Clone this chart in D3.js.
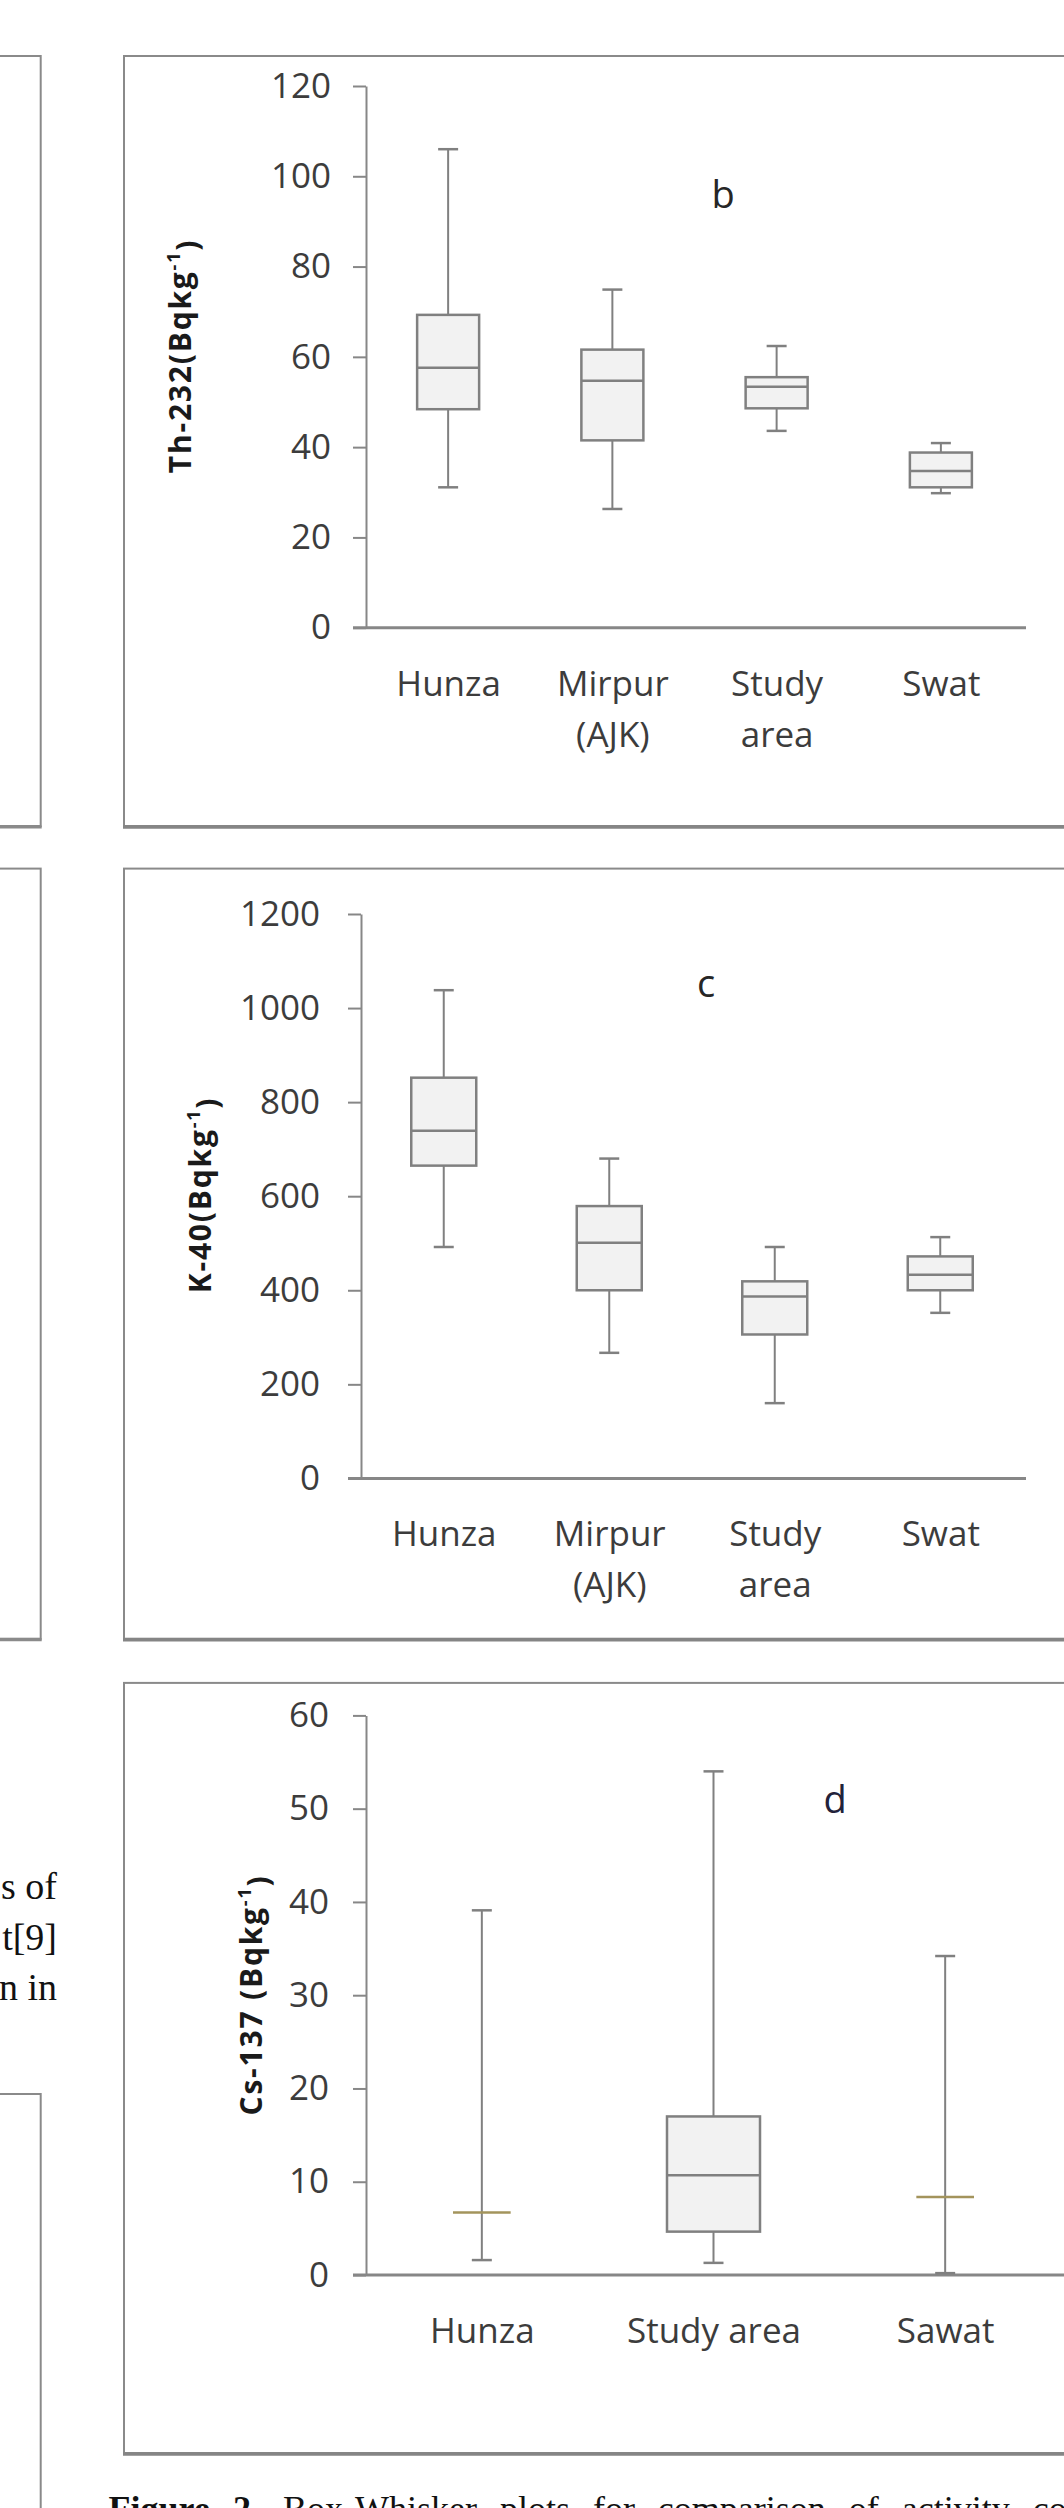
<!DOCTYPE html>
<html>
<head>
<meta charset="utf-8">
<script src="https://cdn.jsdelivr.net/npm/d3@7"></script>
<style>
  body { margin: 0; background: #fff; }
  svg { display: block; }
</style>
</head>
<body>
<svg id="fig" width="1064" height="2508"></svg>
<script>
// ---- data: [min, q1, median, q3, max] ----
const catsTh = ["Hunza", "Mirpur (AJK)", "Study area", "Swat"];
const catsK = ["Hunza", "Mirpur (AJK)", "Study area", "Swat"];
const catsCs = ["Hunza", "Study area", "Sawat"];

const th232 = [
  [31.1, 48.4, 57.6, 69.3, 106.0],
  [26.3, 41.5, 54.7, 61.6, 74.9],
  [43.6, 48.6, 53.4, 55.5, 62.4],
  [29.8, 31.1, 34.7, 38.8, 40.9]
];
const k40 = [
  [492, 665, 739, 852, 1038],
  [267, 400, 501, 579, 680],
  [160, 306, 387, 419, 492],
  [352, 400, 433, 472, 513]
];
// Hunza and Sawat have no visible box (q1 = median = q3)
const cs137 = [
  [1.6, 6.7, 6.7, 6.7, 39.1],
  [1.3, 4.65, 10.7, 17.0, 54.0],
  [0.2, 8.35, 8.35, 8.35, 34.2]
];

const ticksTh = [0, 20, 40, 60, 80, 100, 120];
const ticksK = [0, 200, 400, 600, 800, 1000, 1200];
const ticksCs = [0, 10, 20, 30, 40, 50, 60];

// label line breaks used in panels b and c
const wrapped = {"Mirpur (AJK)": ["Mirpur", "(AJK)"], "Study area": ["Study", "area"]};

// ---- layout of each panel (pixels) ----
const panels = [
  {letter: "b", cats: catsTh, stats: th232, ticks: ticksTh, wrap: true,
   title: "Th-232(Bqkg", frameTop: 56, frameBottom: 826,
   left: 366, right: 1023, top: 86, bottom: 627.7, pad: 22,
   titleX: 180, titleY: 356, letterX: 723, letterY: 195, boxW: 62, letterColor: "#262626"},
  {letter: "c", cats: catsK, stats: k40, ticks: ticksK, wrap: true,
   title: "K-40(Bqkg", frameTop: 868.6, frameBottom: 1638.7,
   left: 361, right: 1023, top: 914, bottom: 1478.4, pad: 28,
   titleX: 200, titleY: 1195, letterX: 706, letterY: 984, boxW: 65, letterColor: "#262626"},
  {letter: "d", cats: catsCs, stats: cs137, ticks: ticksCs, wrap: false,
   title: "Cs-137 (Bqkg", frameTop: 1682.9, frameBottom: 2453,
   left: 366, right: 1061, top: 1715.4, bottom: 2275, pad: 24,
   titleX: 251, titleY: 1995, letterX: 835, letterY: 1800, boxW: 93, letterColor: "#22223a"}
];

const svg = d3.select("#fig");
svg.append("rect").attr("width", 1064).attr("height", 2508).attr("fill", "#fff");

const gray = "#808080";
const axisGray = "#878787";

// partial frames of the neighbouring column (cut by the crop)
[[56, 826], [868.6, 1638.7], [2094, 2700]].forEach(([t, b]) => {
  svg.append("rect")
    .attr("x", -20).attr("y", t).attr("width", 60.7).attr("height", b - t)
    .attr("fill", "none").attr("stroke", "#8a8a8a").attr("stroke-width", 2);
  svg.append("line")
    .attr("x1", -20).attr("x2", 41.7).attr("y1", b + 1).attr("y2", b + 1)
    .attr("stroke", "#8a8a8a").attr("stroke-width", 3);
});

// fragments of the body text on the left
const bodyText = ["s of", "t[9]", "n in"];
svg.selectAll("text.body").data(bodyText).enter().append("text")
  .attr("class", "body")
  .attr("x", 57).attr("y", (d, i) => 1899 + i * 50.5)
  .attr("text-anchor", "end")
  .style("font-family", "'Liberation Serif', 'Times New Roman', serif")
  .style("font-size", "38px")
  .attr("fill", "#111")
  .text(d => d);

function drawPanel(p) {
  // frame
  svg.append("rect")
    .attr("x", 124).attr("y", p.frameTop).attr("width", 1000).attr("height", p.frameBottom - p.frameTop)
    .attr("fill", "#fff").attr("stroke", "#8a8a8a").attr("stroke-width", 2);
  svg.append("line")
    .attr("x1", 123).attr("x2", 1064).attr("y1", p.frameBottom + 1).attr("y2", p.frameBottom + 1)
    .attr("stroke", "#858585").attr("stroke-width", 3.5);

  const g = svg.append("g");
  const yScale = d3.scaleLinear().domain([0, d3.max(p.ticks)]).range([p.bottom, p.top]);
  const xScale = d3.scalePoint().domain(p.cats).range([p.left, p.right]).padding(0.5);

  // y axis
  const yAxis = d3.axisLeft(yScale).tickValues(p.ticks).tickFormat(d3.format("d"))
    .tickSize(13).tickSizeOuter(0).tickPadding(p.pad);
  const ya = g.append("g").attr("transform", `translate(${p.left},0)`).call(yAxis);
  ya.select(".domain").attr("stroke", axisGray).attr("stroke-width", 2);
  ya.selectAll(".tick line").attr("stroke", axisGray).attr("stroke-width", 2);
  ya.selectAll(".tick text")
    .style("font-family", "'Open Sans', sans-serif").style("font-size", "35px")
    .attr("fill", "#3c3c3c");

  // x axis
  g.append("line")
    .attr("x1", p.left - 13).attr("x2", p.right + 3)
    .attr("y1", p.bottom).attr("y2", p.bottom)
    .attr("stroke", axisGray).attr("stroke-width", 3);
  const xAxis = d3.axisBottom(xScale).tickSize(0).tickSizeOuter(0);
  const xa = g.append("g").attr("transform", `translate(0,${p.bottom})`).call(xAxis);
  xa.select(".domain").remove();
  xa.selectAll(".tick text").each(function(d) {
    const t = d3.select(this).text("").attr("y", 0).attr("dy", null)
      .style("font-family", "'Open Sans', sans-serif").style("font-size", "35px")
      .attr("fill", "#3c3c3c");
    const lines = p.wrap && wrapped[d] ? wrapped[d] : [d];
    lines.forEach((s, i) => {
      t.append("tspan").attr("x", 0).attr("y", 68 + i * 51).text(s);
    });
  });

  // boxes
  const cap = 20;
  const items = g.selectAll("g.item").data(p.stats).enter().append("g")
    .attr("class", "item")
    .attr("transform", (d, i) => `translate(${xScale(p.cats[i])},0)`);

  items.append("line")
    .attr("x1", 0).attr("x2", 0)
    .attr("y1", d => yScale(d[0])).attr("y2", d => yScale(d[4]))
    .attr("stroke", gray).attr("stroke-width", 2);
  items.append("line")
    .attr("x1", -cap / 2).attr("x2", cap / 2)
    .attr("y1", d => yScale(d[0])).attr("y2", d => yScale(d[0]))
    .attr("stroke", gray).attr("stroke-width", 2.5);
  items.append("line")
    .attr("x1", -cap / 2).attr("x2", cap / 2)
    .attr("y1", d => yScale(d[4])).attr("y2", d => yScale(d[4]))
    .attr("stroke", gray).attr("stroke-width", 2.5);

  items.filter(d => d[3] > d[1]).each(function(d) {
    const it = d3.select(this);
    it.append("rect")
      .attr("x", -p.boxW / 2).attr("width", p.boxW)
      .attr("y", yScale(d[3])).attr("height", yScale(d[1]) - yScale(d[3]))
      .attr("fill", "#f2f2f2").attr("stroke", gray).attr("stroke-width", 2.5);
    it.append("line")
      .attr("x1", -p.boxW / 2).attr("x2", p.boxW / 2)
      .attr("y1", yScale(d[2])).attr("y2", yScale(d[2]))
      .attr("stroke", gray).attr("stroke-width", 2.5);
  });
  // collapsed boxes show only a khaki median line
  items.filter(d => d[3] <= d[1]).append("line")
    .attr("x1", -p.boxW * 0.31).attr("x2", p.boxW * 0.31)
    .attr("y1", d => yScale(d[2])).attr("y2", d => yScale(d[2]))
    .attr("stroke", "#a3945c").attr("stroke-width", 2.5);

  // y title with superscript
  const tt = g.append("text")
    .attr("transform", `translate(${p.titleX},${p.titleY}) rotate(-90)`)
    .attr("text-anchor", "middle").attr("dy", "0.35em")
    .style("font-family", "'Open Sans', sans-serif").style("font-size", "30px")
    .style("font-weight", "bold").style("letter-spacing", "1.8px")
    .attr("fill", "#1a1a1a");
  tt.append("tspan").text(p.title);
  tt.append("tspan").attr("dy", "-0.6em").style("font-size", "18px").text("-1");
  tt.append("tspan").attr("dy", "0.6em").text(")");

  // panel letter
  g.append("text")
    .attr("x", p.letterX).attr("y", p.letterY).attr("dy", "0.35em")
    .attr("text-anchor", "middle")
    .style("font-family", "'Open Sans', sans-serif").style("font-size", "38px")
    .attr("fill", p.letterColor)
    .text(p.letter);
}

panels.forEach(drawPanel);

// caption, cut by the bottom edge of the crop as in the source
const cap = svg.append("text")
  .attr("x", 108.6).attr("y", 2521)
  .style("font-family", "'Liberation Serif', 'Times New Roman', serif")
  .style("font-size", "36px").style("word-spacing", "14px")
  .attr("fill", "#111");
cap.append("tspan").style("font-weight", "bold").text("Figure 2.");
cap.append("tspan").text(" Box-Whisker plots for comparison of activity concentration");
</script>
</body>
</html>
